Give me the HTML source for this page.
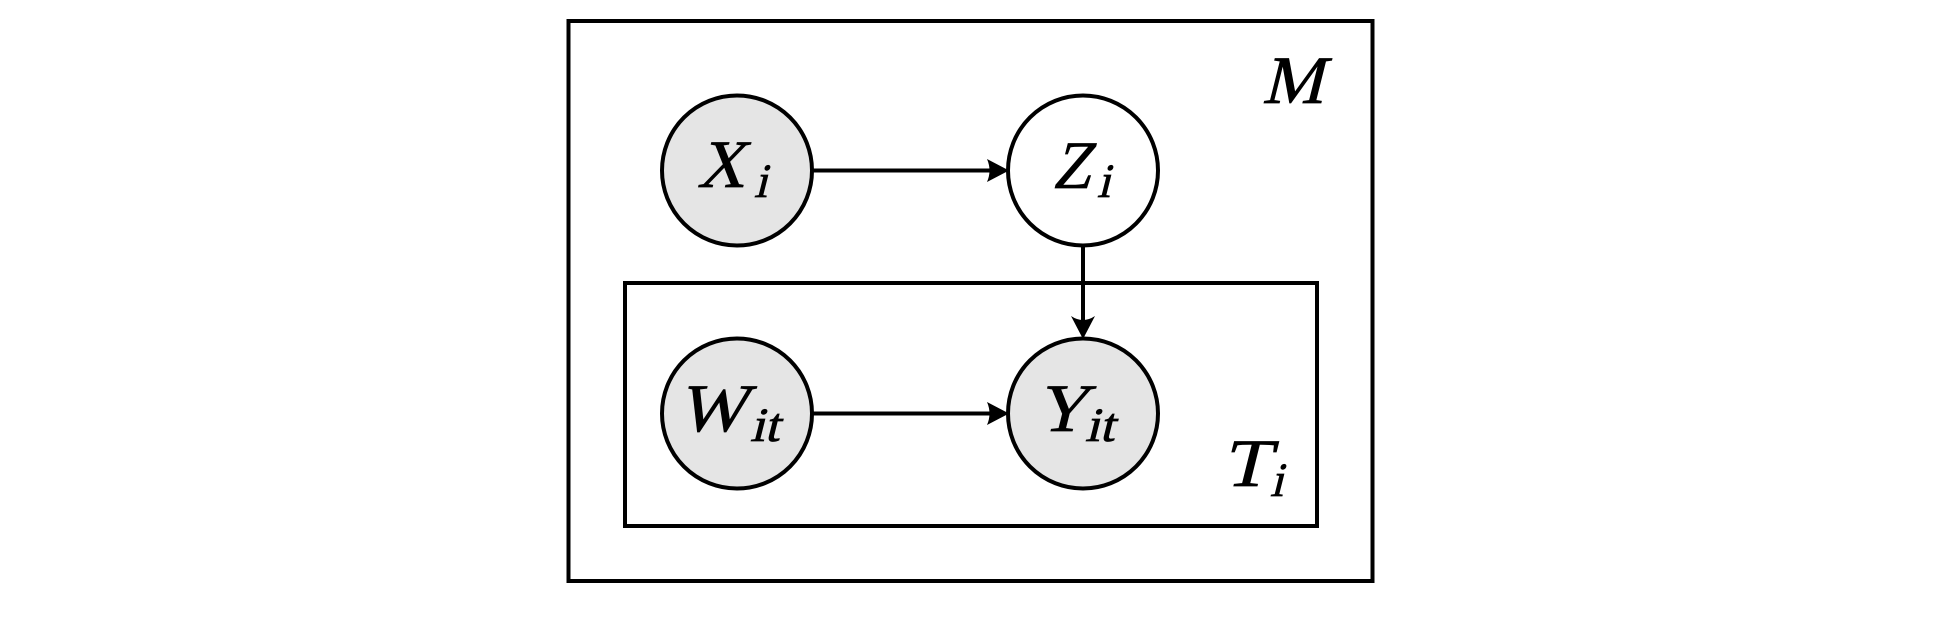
<!DOCTYPE html>
<html><head><meta charset="utf-8"><style>
html,body{margin:0;padding:0;background:#fff;width:1940px;height:644px;overflow:hidden}
svg{display:block}
text{font-family:"Liberation Serif","Times New Roman",serif;fill:#000;font-style:normal}
.b{font-size:68px;stroke:#000;stroke-width:.8px}
.s{font-size:48px;stroke:#000;stroke-width:.8px}
</style></head><body>
<svg width="1940" height="644" viewBox="0 0 1940 644" xmlns="http://www.w3.org/2000/svg">
<rect width="1940" height="644" fill="#fff"/>
<g fill="none" stroke="#000" stroke-width="4">
<rect x="568.5" y="21" width="804" height="560"/>
<rect x="625" y="283" width="692" height="243"/>
<line x1="813" y1="170.5" x2="995" y2="170.5"/>
<line x1="813" y1="413.5" x2="995" y2="413.5"/>
<line x1="1083" y1="245" x2="1083" y2="327"/>
</g>
<circle cx="737" cy="170.5" r="75" fill="#e5e5e5" stroke="#000" stroke-width="4"/>
<circle cx="1083" cy="170.5" r="75" fill="#fff" stroke="#000" stroke-width="4"/>
<circle cx="737" cy="413.5" r="75" fill="#e5e5e5" stroke="#000" stroke-width="4"/>
<circle cx="1083" cy="413.5" r="75" fill="#e5e5e5" stroke="#000" stroke-width="4"/>
<path d="M1009 170.5 L987 159 Q992 170.5 987 182Z"/>
<path d="M1009 413.5 L987 402 Q992 413.5 987 425Z"/>
<path d="M1083 339 L1071 316 Q1083 324 1095 316Z"/>
<text class="b" transform="translate(697 187) skewX(-14)" textLength="47" lengthAdjust="spacingAndGlyphs">X</text>
<text class="s" transform="translate(754 197) skewX(-14)" textLength="13" lengthAdjust="spacingAndGlyphs">i</text>
<text class="b" transform="translate(1052 188) skewX(-14)" textLength="39" lengthAdjust="spacingAndGlyphs">Z</text>
<text class="s" transform="translate(1097 197) skewX(-14)" textLength="13" lengthAdjust="spacingAndGlyphs">i</text>
<text class="b" transform="translate(1262 103) skewX(-14)" textLength="61" lengthAdjust="spacingAndGlyphs">M</text>
<text class="b" transform="translate(678 431) skewX(-14)" textLength="68" lengthAdjust="spacingAndGlyphs">W</text>
<text class="s" transform="translate(750 441) skewX(-14)" textLength="29" lengthAdjust="spacingAndGlyphs">it</text>
<text class="b" transform="translate(1036 431) skewX(-14)" textLength="51" lengthAdjust="spacingAndGlyphs">Y</text>
<text class="s" transform="translate(1085 441) skewX(-14)" textLength="29" lengthAdjust="spacingAndGlyphs">it</text>
<text class="b" transform="translate(1222 486) skewX(-14)" textLength="47" lengthAdjust="spacingAndGlyphs">T</text>
<text class="s" transform="translate(1270 496) skewX(-14)" textLength="13" lengthAdjust="spacingAndGlyphs">i</text>
</svg>
</body></html>
